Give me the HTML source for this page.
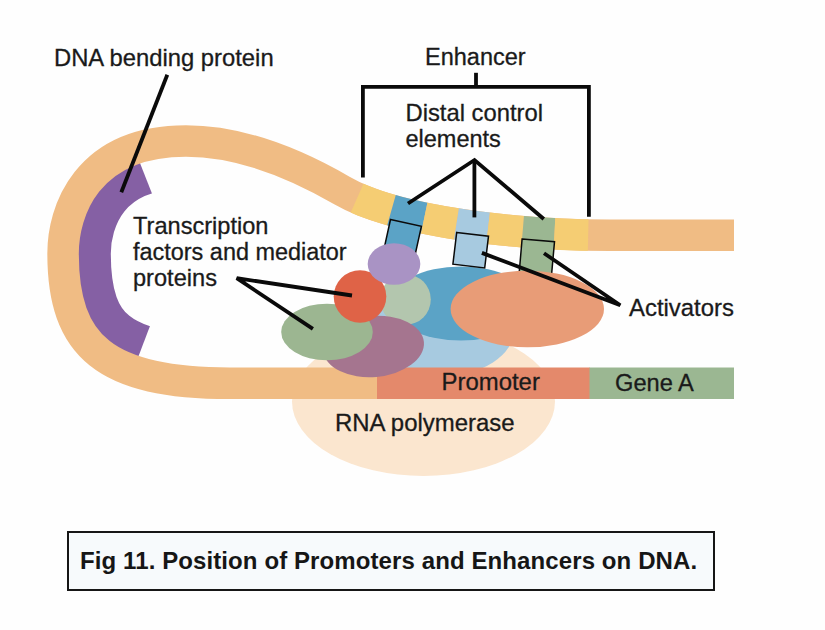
<!DOCTYPE html>
<html><head><meta charset="utf-8"><style>
html,body{margin:0;padding:0;background:#FEFEFE;}
body{width:825px;height:630px;overflow:hidden;position:relative;}
svg{position:absolute;left:0;top:0;}
text{font-family:"Liberation Sans",sans-serif;fill:#1a1a1a;stroke:#1a1a1a;stroke-width:0.3px;}
.cap{position:absolute;left:67px;top:531px;width:644px;height:56px;border:2px solid #161616;background:#F7FAFC;box-sizing:content-box;}
.cap span{position:absolute;left:11px;top:13.5px;letter-spacing:0.1px;font-family:"Liberation Sans",sans-serif;font-weight:bold;font-size:24px;line-height:28px;color:#161616;white-space:nowrap;}
</style></head><body>
<svg width="825" height="630" viewBox="0 0 825 630">
<defs>
<clipPath id="inside"><path d="M186 141 C85.7 141 63.07 212.36 63.07 253.55 C63.07 346.29 104.8 383.25 230 383.25 L400 383.25 L400 141 Z"/></clipPath>
<clipPath id="wedge"><polygon points="95.8,50.7 176.6,256.1 94.1,473 -100,473 -100,50.7"/></clipPath>
</defs>
<ellipse cx="423.5" cy="401.5" rx="131.5" ry="74.5" fill="#FBE6CF"/>
<ellipse cx="442" cy="330" rx="72" ry="46" fill="#A7CAE0"/>
<g clip-path="url(#wedge)"><g clip-path="url(#inside)"><path d="M186 141 C85.7 141 63.07 212.36 63.07 253.55 C63.07 346.29 104.8 383.25 230 383.25" fill="none" stroke="#8560A4" stroke-width="95.5"/></g></g>
<path d="M734 235.3 L610 235.3 C513.4 235.3 394.63 221.1 342.11 190.65 C305.96 169.69 246.86 141 186 141 C85.7 141 63.07 212.36 63.07 253.55 C63.07 346.29 104.8 383.25 230 383.25 L378 383.25" fill="none" stroke="#F0BC84" stroke-width="31.5"/>
<rect x="377" y="367.5" width="213" height="31.5" fill="#E4896B"/>
<rect x="589.5" y="367.5" width="144.5" height="31.5" fill="#9BB792"/>
<polygon points="363.41,183.73 369.15,186.12 375.27,188.45 381.79,190.72 388.61,192.91 395.79,195.03 387.21,225.33 379.36,223.02 371.81,220.60 364.49,218.05 357.50,215.39 350.80,212.59" fill="#F5CD73"/>
<polygon points="395.79,195.03 401.77,196.67 407.93,198.25 414.27,199.78 420.76,201.26 427.41,202.68 421.02,233.53 413.98,232.02 407.08,230.45 400.31,228.82 393.68,227.11 387.21,225.33" fill="#5BA3C6"/>
<polygon points="427.41,202.68 433.48,203.90 439.66,205.08 445.99,206.22 452.37,207.31 458.87,208.36 454.01,239.48 447.22,238.39 440.55,237.25 433.92,236.06 427.42,234.82 421.02,233.53" fill="#F5CD73"/>
<polygon points="458.87,208.36 464.93,209.28 471.10,210.17 477.33,211.02 483.61,211.83 489.94,212.59 486.25,243.88 479.71,243.08 473.20,242.24 466.73,241.36 460.32,240.44 454.01,239.48" fill="#A7CAE0"/>
<polygon points="489.94,212.59 496.65,213.36 503.45,214.08 510.23,214.76 517.09,215.39 523.97,215.98 521.38,247.38 514.29,246.77 507.22,246.12 500.22,245.42 493.19,244.67 486.25,243.88" fill="#F5CD73"/>
<polygon points="523.97,215.98 530.20,216.48 536.49,216.94 542.73,217.36 549.02,217.74 555.29,218.09 553.64,249.55 547.18,249.19 540.71,248.79 534.29,248.36 527.81,247.89 521.38,247.38" fill="#9BB792"/>
<polygon points="555.29,218.09 561.95,218.42 568.64,218.71 575.30,218.95 581.93,219.16 588.51,219.32 587.84,250.81 581.06,250.65 574.24,250.44 567.38,250.18 560.50,249.89 553.64,249.55" fill="#F5CD73"/>
<ellipse cx="461" cy="303.5" rx="71" ry="37" fill="#5BA3C6"/>
<polygon points="390.5,219.5 421.4,226.3 414.6,257.1 383.7,250.4" fill="#5BA3C6" stroke="#0a0a0a" stroke-width="1.5"/>
<polygon points="456.7,232.4 488.5,236.2 484.7,268.0 452.9,264.2" fill="#A7CAE0" stroke="#0a0a0a" stroke-width="1.5"/>
<polygon points="522.1,239.0 554.5,241.8 551.6,274.2 519.3,271.4" fill="#9BB792" stroke="#0a0a0a" stroke-width="1.5"/>
<ellipse cx="527.3" cy="309" rx="76.7" ry="38.3" fill="#E89C77"/>
<circle cx="405.5" cy="299.5" r="25.3" fill="#B3C6AE"/>
<ellipse cx="373.6" cy="346.5" rx="50.5" ry="30.5" transform="rotate(-5 373.6 346.5)" fill="#A5758F"/>
<ellipse cx="327" cy="332" rx="45.8" ry="28.3" fill="#9CB691"/>
<circle cx="360" cy="296.5" r="26.3" fill="#DF6347"/>
<ellipse cx="394" cy="264" rx="26.3" ry="20.8" fill="#A993C4"/>
<g stroke="#0a0a0a" stroke-width="3.8" fill="none" stroke-linecap="butt">
<path d="M362.9 177.6 L362.9 86.8 L588.9 86.8 L588.9 216.7"/>
<path d="M476 86.8 L476 72.8"/>
<path d="M408 203.5 L474.5 160 L543.8 219"/><path d="M474.4 160 L474.4 217.4"/>
<path d="M167.3 74.8 L121.3 192.3"/>
<path d="M352 295.5 L236.7 278.2 L312.9 328.8"/>
<path d="M481.9 252.9 L620.3 305.2 L544 253.3"/>
</g>
<text x="54" y="65.6" font-size="23.8">DNA bending protein</text>
<text x="425" y="64.8" font-size="23.5">Enhancer</text>
<text x="405.5" y="121.2" font-size="23.8">Distal control</text>
<text x="405.5" y="147" font-size="23.5">elements</text>
<text x="133" y="234" font-size="23.6">Transcription</text>
<text x="133" y="260.2" font-size="23.45">factors and mediator</text>
<text x="133" y="285.8" font-size="23.6">proteins</text>
<text x="629" y="315.9" font-size="23.9">Activators</text>
<text x="441.6" y="390" font-size="23.9">Promoter</text>
<text x="615" y="390.5" font-size="23.65">Gene A</text>
<text x="335" y="431.2" font-size="23.95">RNA polymerase</text>
</svg>
<div class="cap"><span>Fig 11. Position of Promoters and Enhancers on DNA.</span></div>
</body></html>
